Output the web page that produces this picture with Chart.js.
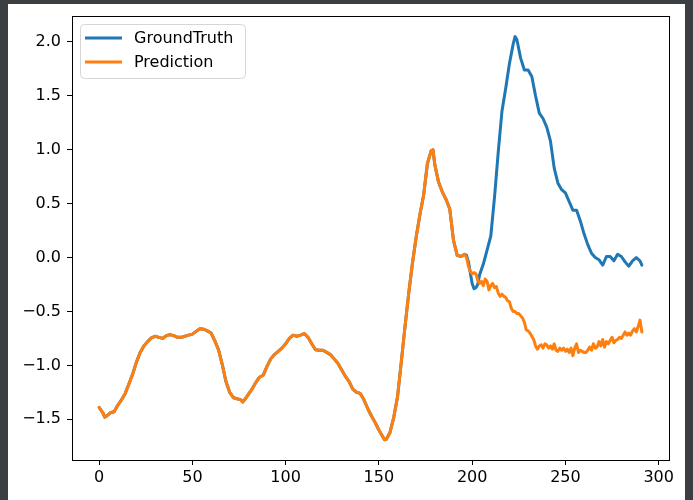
<!DOCTYPE html>
<html>
<head>
<meta charset="utf-8">
<script src="https://cdn.jsdelivr.net/npm/chart.js@4"></script>
<style>
  html, body { margin: 0; padding: 0; background: #3c3f42; }
  #chart { display: block; }
</style>
</head>
<body>
<canvas id="chart" width="693" height="500"></canvas>
<script>
// shared part of both curves (prediction == ground truth up to ~196)
const commonX = [0,2,3,4,6,8,10,12,14,16,18,20,22,24,26,28,30,32,34,36,38,40,42,44,46,48,50,52,54,56,
  58,60,62,64,66,68,70,72,74,76,77,78,80,82,84,86,88,90,92,94,96,98,100,102,104,106,108,110,112,114,
  116,118,120,122,124,126,128,130,132,134,136,138,140,142,144,146,148,150,152,153,154,156,158,160,162,164,166,168,170,172,
  174,176,178,179,180,182,184,186,188,190,192,194,196];
const commonY = [-1.39,-1.44,-1.48,-1.47,-1.44,-1.43,-1.37,-1.32,-1.26,-1.17,
  -1.08,-0.97,-0.88,-0.82,-0.78,-0.745,-0.73,-0.74,-0.75,-0.725,
  -0.715,-0.725,-0.74,-0.74,-0.73,-0.72,-0.71,-0.685,-0.66,-0.665,
  -0.68,-0.70,-0.77,-0.855,-0.99,-1.15,-1.25,-1.30,-1.31,-1.32,
  -1.34,-1.32,-1.27,-1.22,-1.16,-1.11,-1.09,-1.01,-0.94,-0.90,
  -0.87,-0.84,-0.80,-0.75,-0.72,-0.73,-0.72,-0.705,-0.74,-0.80,
  -0.855,-0.86,-0.86,-0.88,-0.90,-0.94,-0.98,-1.04,-1.10,-1.15,
  -1.22,-1.25,-1.26,-1.32,-1.40,-1.47,-1.53,-1.60,-1.66,-1.69,
  -1.685,-1.62,-1.48,-1.29,-0.97,-0.64,-0.33,-0.05,0.19,0.40,
  0.58,0.87,0.99,1.00,0.86,0.70,0.61,0.54,0.45,0.16,
  0.02,0.01,0.03];

const truthTailX = [197,198,199,200,201,202,203,204,206,208,210,212,214,216,218,220,222,223,224,226,
  228,230,232,234,236,238,240,242,244,246,248,250,252,254,256,258,260,262,264,266,
  268,270,272,274,276,278,280,282,284,286,288,290,291];
const truthTailY = [0.02,-0.04,-0.14,-0.24,-0.29,-0.28,-0.25,-0.16,-0.06,0.07,
  0.20,0.56,0.98,1.36,1.57,1.80,1.98,2.05,2.02,1.85,
  1.74,1.74,1.68,1.50,1.34,1.29,1.21,1.08,0.83,0.69,
  0.63,0.60,0.52,0.44,0.44,0.34,0.22,0.12,0.04,0.0,
  -0.02,-0.07,0.01,0.01,-0.03,0.03,0.01,-0.04,-0.08,-0.03,
  0.0,-0.03,-0.07];

// prediction after divergence, one value per step starting at 197
const predTailStart = 197;
const predTailY = [0.0,-0.08,-0.13,-0.15,-0.14,-0.15,-0.21,-0.24,-0.22,-0.26,
  -0.20,-0.22,-0.30,-0.26,-0.24,-0.28,-0.27,-0.33,-0.36,-0.34,
  -0.36,-0.37,-0.40,-0.41,-0.47,-0.50,-0.50,-0.52,-0.52,-0.54,
  -0.56,-0.60,-0.67,-0.68,-0.70,-0.73,-0.76,-0.82,-0.85,-0.82,
  -0.81,-0.84,-0.80,-0.81,-0.84,-0.82,-0.85,-0.80,-0.86,-0.87,
  -0.84,-0.86,-0.84,-0.87,-0.85,-0.88,-0.84,-0.91,-0.84,-0.80,
  -0.88,-0.86,-0.87,-0.88,-0.88,-0.86,-0.83,-0.86,-0.80,-0.84,
  -0.83,-0.78,-0.82,-0.76,-0.83,-0.78,-0.80,-0.77,-0.74,-0.79,
  -0.77,-0.76,-0.74,-0.75,-0.72,-0.69,-0.72,-0.70,-0.72,-0.68,
  -0.66,-0.69,-0.64,-0.58,-0.69];

const xTicks = [0, 50, 100, 150, 200, 250, 300];
const yTicks = [-1.5, -1.0, -0.5, 0.0, 0.5, 1.0, 1.5, 2.0];

const FONT = "'DejaVu Sans', sans-serif";
const LINE_W = 3;

function pairs(xs, ys) {
  return xs.map((x, i) => ({x: x, y: ys[i]}));
}

const truthData = pairs(commonX, commonY).concat(pairs(truthTailX, truthTailY));
const predData = pairs(commonX, commonY).concat(predTailY.map((y, i) => ({x: predTailStart + i, y: y})));

// window frame + white figure
const framePlugin = {
  id: 'frame',
  beforeDraw(chart) {
    const ctx = chart.ctx;
    ctx.save();
    ctx.fillStyle = '#3c3f42';
    ctx.fillRect(0, 0, chart.width, chart.height);
    ctx.fillStyle = '#ffffff';
    ctx.fillRect(8, 4, 677, 496);
    ctx.restore();
  },
  afterDraw(chart) {
    const ctx = chart.ctx;
    const a = chart.chartArea;
    ctx.save();
    ctx.strokeStyle = '#000000';
    ctx.lineWidth = 1;
    ctx.strokeRect(Math.round(a.left) + 0.5, Math.round(a.top) + 0.5,
      Math.round(a.right - a.left), Math.round(a.bottom - a.top));

    // legend box, upper left like matplotlib
    const bx = 80.5, by = 24.5, bw = 165, bh = 54, r = 4;
    ctx.beginPath();
    ctx.moveTo(bx + r, by);
    ctx.arcTo(bx + bw, by, bx + bw, by + bh, r);
    ctx.arcTo(bx + bw, by + bh, bx, by + bh, r);
    ctx.arcTo(bx, by + bh, bx, by, r);
    ctx.arcTo(bx, by, bx + bw, by, r);
    ctx.closePath();
    ctx.fillStyle = 'rgba(255,255,255,0.8)';
    ctx.fill();
    ctx.strokeStyle = '#d6d6d6';
    ctx.stroke();

    ctx.font = '16px ' + FONT;
    ctx.textBaseline = 'middle';
    ctx.textAlign = 'left';
    chart.data.datasets.forEach((ds, i) => {
      const y = 38 + i * 24;
      ctx.strokeStyle = ds.borderColor;
      ctx.lineWidth = LINE_W;
      ctx.beginPath();
      ctx.moveTo(85, y);
      ctx.lineTo(122, y);
      ctx.stroke();
      ctx.fillStyle = '#000000';
      ctx.fillText(ds.label, 134, y + 1);
    });
    ctx.restore();
  }
};

const ctx = document.getElementById('chart').getContext('2d');
const myChart = new Chart(ctx, {
  type: 'line',
  data: {
    datasets: [{
      label: 'GroundTruth',
      data: truthData,
      borderColor: '#1f77b4',
      borderWidth: LINE_W,
      pointRadius: 0,
      tension: 0,
      borderJoinStyle: 'round',
      borderCapStyle: 'round',
      order: 1
    }, {
      label: 'Prediction',
      data: predData,
      borderColor: '#ff7f0e',
      borderWidth: LINE_W,
      pointRadius: 0,
      tension: 0,
      borderJoinStyle: 'round',
      borderCapStyle: 'round',
      order: 0
    }]
  },
  options: {
    responsive: false,
    animation: false,
    events: [],
    layout: { padding: { left: 0, top: 16, right: 24, bottom: 0 } },
    plugins: { legend: { display: false }, tooltip: { enabled: false } },
    scales: {
      x: {
        type: 'linear',
        min: -14.55,
        max: 305.55,
        afterBuildTicks: (s) => { s.ticks = xTicks.map(v => ({value: v})); },
        afterFit: (s) => { s.height = 40; },
        border: { display: false },
        grid: { drawOnChartArea: false, drawTicks: true, tickLength: 5, tickColor: '#000000', lineWidth: 1 },
        ticks: {
          color: '#000000',
          font: { family: FONT, size: 16 },
          padding: 3,
          maxRotation: 0,
          callback: (v) => String(v)
        }
      },
      y: {
        type: 'linear',
        min: -1.878,
        max: 2.241,
        afterBuildTicks: (s) => { s.ticks = yTicks.map(v => ({value: v})); },
        afterFit: (s) => { s.width = 72; },
        border: { display: false },
        grid: { drawOnChartArea: false, drawTicks: true, tickLength: 5, tickColor: '#000000', lineWidth: 1 },
        ticks: {
          color: '#000000',
          font: { family: FONT, size: 16 },
          padding: 6,
          callback: (v) => (v < 0 ? '\u2212' : '') + Math.abs(v).toFixed(1)
        }
      }
    }
  },
  plugins: [framePlugin]
});
</script>
</body>
</html>
